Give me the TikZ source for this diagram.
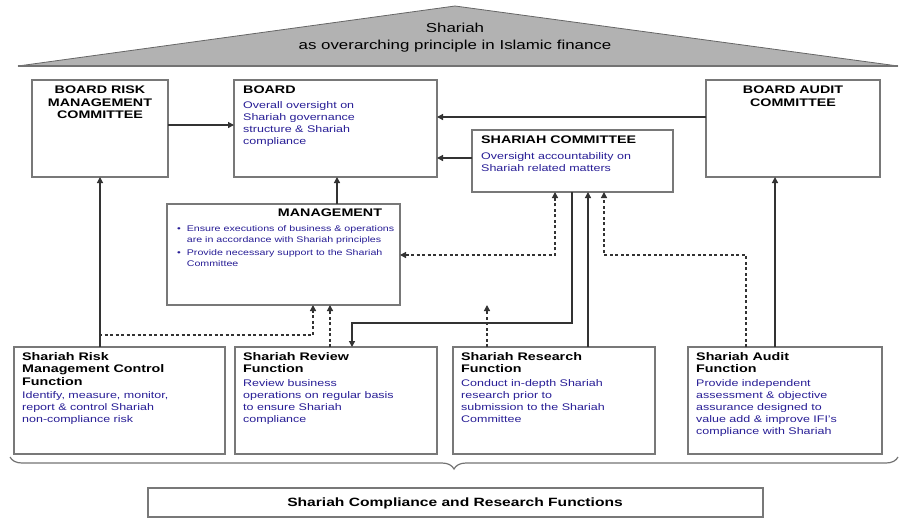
\documentclass[tikz,border=0pt]{standalone}
\usepackage{fontspec}
\setmainfont[FakeStretch=1.3]{Liberation Sans}
\usetikzlibrary{arrows.meta,decorations.pathreplacing}
\definecolor{txtblue}{RGB}{40,30,150}
\definecolor{boxgray}{RGB}{120,120,120}
\begin{document}
\begin{tikzpicture}[x=1pt,y=-1pt,
  box/.style={draw=boxgray,line width=1.6pt,fill=white},
  hd/.style={anchor=north west,align=left,font=\fontsize{11}{12.5}\selectfont\bfseries,inner sep=0pt},
  ds/.style={anchor=north west,align=left,font=\fontsize{9.6}{12}\selectfont,text=txtblue,inner sep=0pt},
  sarr/.style={line width=1.3pt,draw=black!80,-{Triangle[length=6pt,width=6pt]}},
  darr/.style={line width=1.3pt,draw=black!80,dash pattern=on 3pt off 2.5pt,-{Triangle[length=6pt,width=6pt]}}]
\useasboundingbox (0,0) rectangle (909,520);
% roof
\fill[gray!60,draw=black!60,line width=0.8pt] (18,66) -- (455,6) -- (898,66) -- cycle;
\draw[black!55,line width=2pt] (18,66) -- (898,66);
\node[font=\fontsize{13}{17}\selectfont,align=center] (roof) at (455,38) {Shariah\\as overarching principle in Islamic finance};
% boxes
\draw[box] (32,80) rectangle (168,177);
\node[hd,align=center,anchor=north] (brmct) at (100,86) {BOARD RISK\\MANAGEMENT\\COMMITTEE};
\draw[box] (234,80) rectangle (437,177);
\node[hd] (bt) at (243,86) {BOARD};
\node[ds] (bd) at (243,101) {Overall oversight on\\Shariah governance\\structure \& Shariah\\compliance};
\draw[box] (706,80) rectangle (880,177);
\node[hd,align=center,anchor=north] (bact) at (793,86) {BOARD AUDIT\\COMMITTEE};
\draw[box] (472,130) rectangle (673,192);
\node[hd] (sct) at (481,136) {SHARIAH COMMITTEE};
\node[ds] (scd) at (481,152) {Oversight accountability on\\Shariah related matters};
\draw[box] (167,204) rectangle (400,305);
\node[hd,anchor=north] (mt) at (330,209) {MANAGEMENT};
\node[ds,font=\fontsize{8.2}{11}\selectfont] (md) at (177,225) {\textbullet\ \ Ensure executions of business \& operations\\\phantom{\textbullet\ \ }are in accordance with Shariah principles\\[2pt]\textbullet\ \ Provide necessary support to the Shariah\\\phantom{\textbullet\ \ }Committee};
\draw[box] (14,347) rectangle (225,454);
\node[hd] (rt) at (22,352) {Shariah Risk\\Management Control\\Function};
\node[ds] (rd) at (22,391) {Identify, measure, monitor,\\report \& control Shariah\\non-compliance risk};
\draw[box] (235,347) rectangle (437,454);
\node[hd] (vt) at (243,352) {Shariah Review\\Function};
\node[ds] (vd) at (243,379) {Review business\\operations on regular basis\\to ensure Shariah\\compliance};
\draw[box] (453,347) rectangle (655,454);
\node[hd] (st) at (461,352) {Shariah Research\\Function};
\node[ds] (sd) at (461,379) {Conduct in-depth Shariah\\research prior to\\submission to the Shariah\\Committee};
\draw[box] (688,347) rectangle (882,454);
\node[hd] (at) at (696,352) {Shariah Audit\\Function};
\node[ds] (ad) at (696,379) {Provide independent\\assessment \& objective\\assurance designed to\\value add \& improve IFI's\\compliance with Shariah};
% brace
\draw[black!55,line width=1.2pt,decorate,decoration={brace,mirror,amplitude=12pt}] (10,457) -- (898,457);
\draw[box,line width=1.4pt] (148,488) rectangle (763,517);
\node[font=\fontsize{12}{13}\selectfont\bfseries] (bot) at (455,503) {Shariah Compliance and Research Functions};
% connectors
\draw[sarr] (100,347) -- (100,177);
\draw[sarr] (168,125) -- (234,125);
\draw[sarr] (706,117) -- (437,117);
\draw[sarr] (472,158) -- (437,158);
\draw[sarr] (337,204) -- (337,177);
\draw[sarr] (775,347) -- (775,177);
\draw[darr,{Triangle[length=6pt,width=6pt]}-{Triangle[length=6pt,width=6pt]}] (400,255) -- (555,255) -- (555,192);
\draw[sarr] (572,192) -- (572,323) -- (352,323) -- (352,347);
\draw[sarr] (588,347) -- (588,192);
\draw[darr] (746,347) -- (746,255) -- (604,255) -- (604,192);
\draw[darr] (487,347) -- (487,305);
\draw[darr] (100,347) -- (100,335) -- (313,335) -- (313,305);
\draw[darr] (330,347) -- (330,305);
\end{tikzpicture}
\end{document}
